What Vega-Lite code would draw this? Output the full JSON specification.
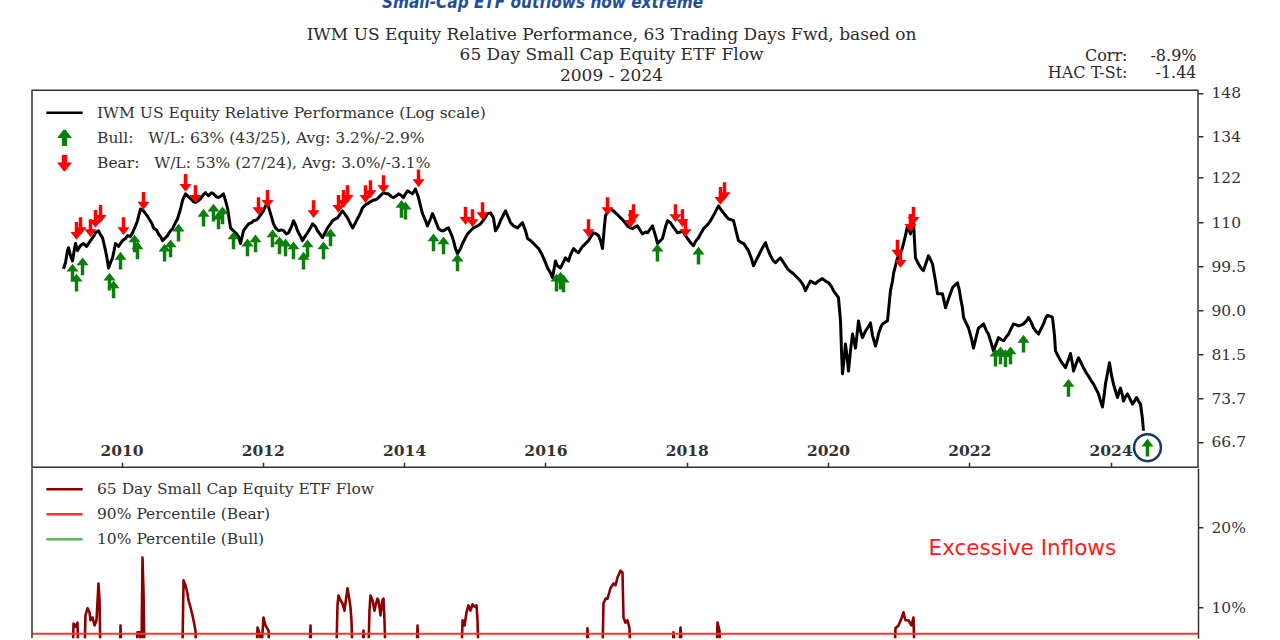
{
  "$schema": "https://vega.github.io/schema/vega-lite/v6.json",
  "background": "white",
  "padding": {"left": 31, "top": -7.75, "right": 0, "bottom": 0},
  "spacing": 1,
  "bounds": "flush",
  "config": {"font": "DejaVu Serif", "view": {"stroke": null}, "axis": {"grid": false}},
  "resolve": {"scale": {"x": "independent", "y": "independent", "color": "independent"}, "legend": {"color": "independent"}},
  "datasets": {
    "perf": [{"t":2009.179,"v":99.0},{"t":2009.207,"v":100.4},{"t":2009.236,"v":103.2},{"t":2009.250,"v":103.9},{"t":2009.278,"v":102.0},{"t":2009.306,"v":100.8},{"t":2009.335,"v":103.7},{"t":2009.349,"v":104.9},{"t":2009.377,"v":103.2},{"t":2009.391,"v":103.7},{"t":2009.420,"v":104.4},{"t":2009.462,"v":104.9},{"t":2009.505,"v":104.2},{"t":2009.561,"v":105.6},{"t":2009.604,"v":106.6},{"t":2009.632,"v":107.5},{"t":2009.674,"v":108.0},{"t":2009.703,"v":107.0},{"t":2009.731,"v":106.3},{"t":2009.774,"v":103.2},{"t":2009.802,"v":100.8},{"t":2009.816,"v":99.2},{"t":2009.844,"v":100.4},{"t":2009.873,"v":101.5},{"t":2009.915,"v":104.9},{"t":2009.958,"v":104.2},{"t":2010.014,"v":105.6},{"t":2010.057,"v":106.1},{"t":2010.085,"v":106.8},{"t":2010.127,"v":106.6},{"t":2010.156,"v":107.5},{"t":2010.198,"v":109.2},{"t":2010.226,"v":110.5},{"t":2010.269,"v":113.5},{"t":2010.311,"v":113.0},{"t":2010.354,"v":112.0},{"t":2010.382,"v":111.2},{"t":2010.425,"v":110.0},{"t":2010.453,"v":108.7},{"t":2010.495,"v":108.2},{"t":2010.524,"v":107.2},{"t":2010.552,"v":106.6},{"t":2010.580,"v":105.6},{"t":2010.623,"v":106.3},{"t":2010.651,"v":106.8},{"t":2010.694,"v":108.0},{"t":2010.722,"v":108.5},{"t":2010.764,"v":110.0},{"t":2010.793,"v":111.0},{"t":2010.835,"v":113.5},{"t":2010.863,"v":115.7},{"t":2010.906,"v":117.5},{"t":2010.948,"v":116.7},{"t":2010.977,"v":116.2},{"t":2011.019,"v":115.4},{"t":2011.047,"v":115.2},{"t":2011.090,"v":115.7},{"t":2011.118,"v":116.2},{"t":2011.161,"v":117.3},{"t":2011.189,"v":117.8},{"t":2011.231,"v":117.0},{"t":2011.274,"v":117.8},{"t":2011.302,"v":117.5},{"t":2011.345,"v":116.7},{"t":2011.373,"v":116.5},{"t":2011.415,"v":117.0},{"t":2011.444,"v":117.5},{"t":2011.472,"v":115.7},{"t":2011.500,"v":113.8},{"t":2011.543,"v":108.7},{"t":2011.571,"v":108.2},{"t":2011.614,"v":107.5},{"t":2011.656,"v":106.6},{"t":2011.684,"v":104.9},{"t":2011.727,"v":108.0},{"t":2011.769,"v":109.0},{"t":2011.798,"v":109.7},{"t":2011.840,"v":110.0},{"t":2011.868,"v":110.5},{"t":2011.911,"v":110.7},{"t":2011.939,"v":111.2},{"t":2011.982,"v":112.3},{"t":2012.010,"v":113.0},{"t":2012.038,"v":114.3},{"t":2012.067,"v":114.9},{"t":2012.109,"v":112.3},{"t":2012.151,"v":109.7},{"t":2012.180,"v":108.7},{"t":2012.222,"v":108.0},{"t":2012.265,"v":108.2},{"t":2012.293,"v":108.0},{"t":2012.335,"v":107.2},{"t":2012.364,"v":107.5},{"t":2012.406,"v":109.0},{"t":2012.434,"v":110.5},{"t":2012.463,"v":109.5},{"t":2012.491,"v":108.0},{"t":2012.534,"v":106.6},{"t":2012.562,"v":105.6},{"t":2012.604,"v":106.8},{"t":2012.633,"v":107.5},{"t":2012.675,"v":108.7},{"t":2012.703,"v":109.7},{"t":2012.746,"v":109.0},{"t":2012.774,"v":108.0},{"t":2012.817,"v":107.0},{"t":2012.845,"v":106.3},{"t":2012.887,"v":107.7},{"t":2012.916,"v":108.7},{"t":2012.958,"v":109.7},{"t":2012.986,"v":110.5},{"t":2013.029,"v":111.0},{"t":2013.057,"v":111.2},{"t":2013.100,"v":112.3},{"t":2013.128,"v":113.0},{"t":2013.170,"v":112.0},{"t":2013.199,"v":111.2},{"t":2013.241,"v":109.7},{"t":2013.270,"v":108.7},{"t":2013.312,"v":110.0},{"t":2013.340,"v":111.0},{"t":2013.383,"v":112.5},{"t":2013.411,"v":113.8},{"t":2013.454,"v":114.6},{"t":2013.482,"v":114.9},{"t":2013.524,"v":115.4},{"t":2013.553,"v":115.7},{"t":2013.595,"v":115.9},{"t":2013.623,"v":116.2},{"t":2013.666,"v":117.0},{"t":2013.708,"v":117.8},{"t":2013.751,"v":117.5},{"t":2013.779,"v":117.5},{"t":2013.822,"v":116.7},{"t":2013.850,"v":116.5},{"t":2013.892,"v":117.0},{"t":2013.921,"v":117.5},{"t":2013.963,"v":117.0},{"t":2013.991,"v":116.5},{"t":2014.020,"v":117.5},{"t":2014.048,"v":118.3},{"t":2014.091,"v":117.8},{"t":2014.119,"v":117.5},{"t":2014.161,"v":118.8},{"t":2014.204,"v":116.5},{"t":2014.232,"v":114.3},{"t":2014.260,"v":112.3},{"t":2014.303,"v":110.5},{"t":2014.331,"v":109.2},{"t":2014.374,"v":111.0},{"t":2014.402,"v":112.3},{"t":2014.444,"v":110.5},{"t":2014.487,"v":108.5},{"t":2014.529,"v":108.0},{"t":2014.558,"v":108.0},{"t":2014.600,"v":108.5},{"t":2014.628,"v":108.7},{"t":2014.671,"v":107.0},{"t":2014.699,"v":105.6},{"t":2014.727,"v":103.7},{"t":2014.756,"v":102.5},{"t":2014.798,"v":103.7},{"t":2014.827,"v":104.9},{"t":2014.869,"v":106.3},{"t":2014.897,"v":107.2},{"t":2014.940,"v":108.0},{"t":2014.982,"v":108.7},{"t":2015.039,"v":109.2},{"t":2015.081,"v":109.7},{"t":2015.138,"v":111.0},{"t":2015.180,"v":112.3},{"t":2015.223,"v":112.5},{"t":2015.265,"v":111.2},{"t":2015.293,"v":108.0},{"t":2015.336,"v":109.2},{"t":2015.364,"v":110.5},{"t":2015.407,"v":112.0},{"t":2015.435,"v":113.0},{"t":2015.478,"v":111.2},{"t":2015.506,"v":110.0},{"t":2015.548,"v":109.2},{"t":2015.605,"v":108.7},{"t":2015.647,"v":109.5},{"t":2015.676,"v":110.0},{"t":2015.718,"v":108.0},{"t":2015.747,"v":106.1},{"t":2015.789,"v":105.6},{"t":2015.831,"v":104.9},{"t":2015.874,"v":104.2},{"t":2015.902,"v":103.7},{"t":2015.945,"v":102.5},{"t":2015.973,"v":101.5},{"t":2016.001,"v":100.4},{"t":2016.030,"v":99.2},{"t":2016.072,"v":98.1},{"t":2016.100,"v":97.0},{"t":2016.143,"v":100.8},{"t":2016.171,"v":99.7},{"t":2016.214,"v":99.2},{"t":2016.256,"v":100.6},{"t":2016.284,"v":101.5},{"t":2016.327,"v":100.8},{"t":2016.355,"v":102.2},{"t":2016.398,"v":103.7},{"t":2016.440,"v":103.0},{"t":2016.468,"v":102.7},{"t":2016.511,"v":103.9},{"t":2016.539,"v":104.4},{"t":2016.582,"v":105.1},{"t":2016.610,"v":105.6},{"t":2016.652,"v":106.8},{"t":2016.681,"v":107.5},{"t":2016.723,"v":107.2},{"t":2016.751,"v":106.8},{"t":2016.780,"v":105.6},{"t":2016.808,"v":103.7},{"t":2016.836,"v":109.2},{"t":2016.851,"v":111.8},{"t":2016.893,"v":113.0},{"t":2016.921,"v":113.5},{"t":2016.964,"v":113.0},{"t":2016.992,"v":112.5},{"t":2017.035,"v":111.8},{"t":2017.063,"v":111.2},{"t":2017.105,"v":110.5},{"t":2017.162,"v":109.2},{"t":2017.204,"v":108.7},{"t":2017.233,"v":108.5},{"t":2017.275,"v":109.0},{"t":2017.303,"v":109.2},{"t":2017.346,"v":108.0},{"t":2017.374,"v":107.2},{"t":2017.417,"v":107.7},{"t":2017.445,"v":107.5},{"t":2017.487,"v":108.5},{"t":2017.516,"v":109.2},{"t":2017.558,"v":106.8},{"t":2017.586,"v":104.9},{"t":2017.629,"v":105.6},{"t":2017.657,"v":106.1},{"t":2017.700,"v":109.0},{"t":2017.728,"v":110.5},{"t":2017.771,"v":110.0},{"t":2017.799,"v":109.2},{"t":2017.841,"v":108.2},{"t":2017.870,"v":107.5},{"t":2017.912,"v":107.7},{"t":2017.940,"v":108.0},{"t":2017.983,"v":106.8},{"t":2018.011,"v":106.1},{"t":2018.054,"v":105.1},{"t":2018.096,"v":104.4},{"t":2018.124,"v":105.4},{"t":2018.167,"v":106.3},{"t":2018.195,"v":107.2},{"t":2018.238,"v":108.5},{"t":2018.280,"v":109.2},{"t":2018.337,"v":110.5},{"t":2018.393,"v":112.3},{"t":2018.450,"v":114.3},{"t":2018.478,"v":113.5},{"t":2018.521,"v":112.5},{"t":2018.563,"v":111.5},{"t":2018.591,"v":111.0},{"t":2018.634,"v":110.7},{"t":2018.662,"v":110.5},{"t":2018.705,"v":107.5},{"t":2018.733,"v":105.6},{"t":2018.775,"v":105.1},{"t":2018.804,"v":104.9},{"t":2018.846,"v":103.9},{"t":2018.874,"v":103.2},{"t":2018.917,"v":101.3},{"t":2018.945,"v":99.7},{"t":2018.988,"v":101.1},{"t":2019.016,"v":102.0},{"t":2019.073,"v":103.9},{"t":2019.115,"v":105.1},{"t":2019.143,"v":103.7},{"t":2019.186,"v":102.0},{"t":2019.228,"v":100.8},{"t":2019.257,"v":100.4},{"t":2019.299,"v":101.1},{"t":2019.327,"v":101.5},{"t":2019.384,"v":100.1},{"t":2019.427,"v":99.0},{"t":2019.469,"v":98.4},{"t":2019.511,"v":97.9},{"t":2019.568,"v":97.0},{"t":2019.611,"v":96.3},{"t":2019.653,"v":95.3},{"t":2019.681,"v":94.2},{"t":2019.724,"v":95.5},{"t":2019.752,"v":96.3},{"t":2019.795,"v":95.9},{"t":2019.823,"v":95.7},{"t":2019.865,"v":96.3},{"t":2019.922,"v":96.8},{"t":2019.964,"v":96.3},{"t":2020.007,"v":95.9},{"t":2020.049,"v":95.1},{"t":2020.077,"v":94.2},{"t":2020.120,"v":93.3},{"t":2020.148,"v":92.7},{"t":2020.177,"v":87.9},{"t":2020.191,"v":82.1},{"t":2020.205,"v":77.9},{"t":2020.233,"v":81.2},{"t":2020.247,"v":83.4},{"t":2020.276,"v":80.3},{"t":2020.290,"v":78.4},{"t":2020.318,"v":82.1},{"t":2020.347,"v":85.3},{"t":2020.375,"v":83.6},{"t":2020.389,"v":82.6},{"t":2020.417,"v":85.9},{"t":2020.431,"v":87.9},{"t":2020.460,"v":85.9},{"t":2020.488,"v":84.6},{"t":2020.531,"v":85.9},{"t":2020.559,"v":86.5},{"t":2020.601,"v":87.5},{"t":2020.630,"v":85.0},{"t":2020.672,"v":83.0},{"t":2020.700,"v":84.4},{"t":2020.714,"v":85.3},{"t":2020.743,"v":86.5},{"t":2020.771,"v":87.3},{"t":2020.814,"v":87.7},{"t":2020.842,"v":87.9},{"t":2020.870,"v":92.0},{"t":2020.884,"v":94.2},{"t":2020.913,"v":96.3},{"t":2020.927,"v":97.9},{"t":2020.955,"v":99.7},{"t":2020.983,"v":101.5},{"t":2021.026,"v":102.7},{"t":2021.054,"v":103.9},{"t":2021.096,"v":106.8},{"t":2021.125,"v":109.2},{"t":2021.153,"v":108.0},{"t":2021.167,"v":107.2},{"t":2021.196,"v":109.2},{"t":2021.210,"v":110.5},{"t":2021.224,"v":105.6},{"t":2021.238,"v":101.5},{"t":2021.266,"v":100.6},{"t":2021.281,"v":100.1},{"t":2021.323,"v":99.0},{"t":2021.351,"v":98.6},{"t":2021.394,"v":100.6},{"t":2021.422,"v":102.0},{"t":2021.451,"v":101.1},{"t":2021.479,"v":100.1},{"t":2021.521,"v":96.3},{"t":2021.550,"v":93.5},{"t":2021.592,"v":93.5},{"t":2021.620,"v":93.5},{"t":2021.649,"v":91.6},{"t":2021.663,"v":90.6},{"t":2021.705,"v":92.4},{"t":2021.762,"v":94.8},{"t":2021.804,"v":95.5},{"t":2021.833,"v":95.9},{"t":2021.861,"v":94.2},{"t":2021.875,"v":92.7},{"t":2021.903,"v":90.6},{"t":2021.918,"v":88.6},{"t":2021.960,"v":87.3},{"t":2021.988,"v":86.5},{"t":2022.031,"v":84.4},{"t":2022.059,"v":82.6},{"t":2022.102,"v":85.0},{"t":2022.130,"v":86.5},{"t":2022.172,"v":86.9},{"t":2022.201,"v":87.3},{"t":2022.243,"v":85.9},{"t":2022.271,"v":85.3},{"t":2022.314,"v":83.4},{"t":2022.342,"v":82.1},{"t":2022.385,"v":83.6},{"t":2022.413,"v":84.6},{"t":2022.456,"v":84.2},{"t":2022.484,"v":84.0},{"t":2022.526,"v":84.8},{"t":2022.555,"v":85.3},{"t":2022.597,"v":86.5},{"t":2022.625,"v":87.3},{"t":2022.668,"v":87.1},{"t":2022.696,"v":86.9},{"t":2022.739,"v":87.1},{"t":2022.767,"v":87.3},{"t":2022.809,"v":87.9},{"t":2022.838,"v":88.6},{"t":2022.880,"v":87.5},{"t":2022.908,"v":86.5},{"t":2022.951,"v":85.7},{"t":2022.979,"v":85.3},{"t":2023.022,"v":86.5},{"t":2023.050,"v":87.3},{"t":2023.078,"v":88.4},{"t":2023.107,"v":89.0},{"t":2023.149,"v":88.8},{"t":2023.177,"v":88.6},{"t":2023.206,"v":85.0},{"t":2023.220,"v":82.1},{"t":2023.262,"v":81.0},{"t":2023.291,"v":80.3},{"t":2023.333,"v":79.5},{"t":2023.361,"v":79.0},{"t":2023.404,"v":80.5},{"t":2023.432,"v":81.6},{"t":2023.460,"v":79.7},{"t":2023.475,"v":78.4},{"t":2023.517,"v":79.9},{"t":2023.545,"v":80.8},{"t":2023.588,"v":79.7},{"t":2023.616,"v":79.0},{"t":2023.659,"v":78.0},{"t":2023.687,"v":77.5},{"t":2023.729,"v":76.6},{"t":2023.758,"v":76.1},{"t":2023.800,"v":75.1},{"t":2023.829,"v":74.4},{"t":2023.857,"v":73.2},{"t":2023.885,"v":72.2},{"t":2023.913,"v":74.6},{"t":2023.927,"v":76.1},{"t":2023.956,"v":78.0},{"t":2023.984,"v":79.9},{"t":2024.012,"v":77.7},{"t":2024.040,"v":76.1},{"t":2024.069,"v":74.9},{"t":2024.097,"v":73.8},{"t":2024.125,"v":74.9},{"t":2024.140,"v":75.4},{"t":2024.168,"v":74.1},{"t":2024.182,"v":73.2},{"t":2024.210,"v":73.9},{"t":2024.239,"v":74.4},{"t":2024.281,"v":73.4},{"t":2024.310,"v":72.7},{"t":2024.338,"v":73.2},{"t":2024.366,"v":73.8},{"t":2024.395,"v":73.2},{"t":2024.423,"v":72.7},{"t":2024.451,"v":70.3},{"t":2024.465,"v":68.4}],
    "bull": [{"t":2009.306,"v":98.1},{"t":2009.363,"v":95.9},{"t":2009.448,"v":99.5},{"t":2009.830,"v":96.1},{"t":2009.887,"v":94.4},{"t":2009.986,"v":100.8},{"t":2010.184,"v":104.9},{"t":2010.226,"v":103.2},{"t":2010.609,"v":102.7},{"t":2010.694,"v":103.7},{"t":2010.807,"v":107.5},{"t":2011.161,"v":111.2},{"t":2011.302,"v":112.5},{"t":2011.373,"v":110.5},{"t":2011.430,"v":111.8},{"t":2011.585,"v":105.6},{"t":2011.783,"v":103.9},{"t":2011.897,"v":104.9},{"t":2012.137,"v":106.1},{"t":2012.236,"v":104.4},{"t":2012.321,"v":103.9},{"t":2012.434,"v":103.2},{"t":2012.576,"v":100.8},{"t":2012.633,"v":103.7},{"t":2012.859,"v":103.2},{"t":2012.958,"v":106.3},{"t":2013.963,"v":113.5},{"t":2014.020,"v":113.0},{"t":2014.416,"v":105.1},{"t":2014.558,"v":104.4},{"t":2014.756,"v":100.4},{"t":2016.157,"v":95.9},{"t":2016.214,"v":96.3},{"t":2016.256,"v":95.7},{"t":2017.586,"v":102.7},{"t":2018.167,"v":102.0},{"t":2022.371,"v":80.8},{"t":2022.441,"v":81.2},{"t":2022.512,"v":80.7},{"t":2022.583,"v":81.2},{"t":2022.767,"v":83.4},{"t":2023.404,"v":75.4},{"t":2024.522,"v":65.8}],
    "bear": [{"t":2009.363,"v":108.0},{"t":2009.420,"v":109.2},{"t":2009.561,"v":108.7},{"t":2009.632,"v":111.0},{"t":2009.703,"v":112.3},{"t":2010.028,"v":109.2},{"t":2010.311,"v":115.7},{"t":2010.906,"v":120.5},{"t":2011.047,"v":117.5},{"t":2011.939,"v":114.3},{"t":2012.067,"v":116.2},{"t":2012.718,"v":113.5},{"t":2013.071,"v":114.9},{"t":2013.142,"v":116.2},{"t":2013.199,"v":117.5},{"t":2013.454,"v":117.5},{"t":2013.524,"v":118.8},{"t":2013.708,"v":120.2},{"t":2014.204,"v":121.8},{"t":2014.869,"v":111.8},{"t":2014.968,"v":111.2},{"t":2015.110,"v":113.0},{"t":2016.610,"v":108.7},{"t":2016.879,"v":114.3},{"t":2017.204,"v":111.0},{"t":2017.247,"v":112.5},{"t":2017.841,"v":112.5},{"t":2017.940,"v":111.2},{"t":2017.983,"v":108.7},{"t":2018.478,"v":117.0},{"t":2018.535,"v":118.3},{"t":2020.983,"v":103.7},{"t":2021.026,"v":101.3},{"t":2021.167,"v":110.0},{"t":2021.210,"v":111.8}],
    "flow": [{"t":2009.179,"f":0.02},{"t":2009.250,"f":0.01},{"t":2009.306,"f":0.03},{"t":2009.321,"f":0.080},{"t":2009.349,"f":0.076},{"t":2009.377,"f":0.081},{"t":2009.391,"f":0.03},{"t":2009.434,"f":0.02},{"t":2009.476,"f":0.04},{"t":2009.490,"f":0.090},{"t":2009.519,"f":0.099},{"t":2009.547,"f":0.094},{"t":2009.561,"f":0.084},{"t":2009.590,"f":0.0875},{"t":2009.618,"f":0.0775},{"t":2009.646,"f":0.084},{"t":2009.674,"f":0.130},{"t":2009.689,"f":0.109},{"t":2009.703,"f":0.03},{"t":2009.774,"f":-0.02},{"t":2009.844,"f":-0.04},{"t":2009.915,"f":0.0},{"t":2009.972,"f":0.03},{"t":2009.986,"f":0.0775},{"t":2010.000,"f":0.03},{"t":2010.099,"f":-0.03},{"t":2010.170,"f":-0.05},{"t":2010.212,"f":0.04},{"t":2010.226,"f":0.069},{"t":2010.255,"f":0.069},{"t":2010.283,"f":0.05},{"t":2010.297,"f":0.1625},{"t":2010.311,"f":0.121},{"t":2010.326,"f":0.04},{"t":2010.410,"f":0.01},{"t":2010.552,"f":-0.03},{"t":2010.694,"f":-0.05},{"t":2010.807,"f":-0.02},{"t":2010.863,"f":0.05},{"t":2010.878,"f":0.134},{"t":2010.906,"f":0.1275},{"t":2010.934,"f":0.1175},{"t":2010.948,"f":0.109},{"t":2010.977,"f":0.100},{"t":2011.005,"f":0.090},{"t":2011.019,"f":0.084},{"t":2011.047,"f":0.071},{"t":2011.062,"f":0.03},{"t":2011.146,"f":-0.04},{"t":2011.288,"f":-0.06},{"t":2011.430,"f":-0.05},{"t":2011.571,"f":-0.03},{"t":2011.755,"f":-0.04},{"t":2011.854,"f":0.0},{"t":2011.911,"f":0.04},{"t":2011.925,"f":0.075},{"t":2011.953,"f":0.0675},{"t":2011.982,"f":0.05},{"t":2012.010,"f":0.0875},{"t":2012.038,"f":0.0775},{"t":2012.081,"f":0.071},{"t":2012.095,"f":0.03},{"t":2012.180,"f":-0.04},{"t":2012.321,"f":-0.06},{"t":2012.463,"f":-0.05},{"t":2012.576,"f":-0.06},{"t":2012.647,"f":0.0},{"t":2012.661,"f":0.04},{"t":2012.675,"f":0.0775},{"t":2012.689,"f":0.03},{"t":2012.817,"f":-0.04},{"t":2012.958,"f":-0.05},{"t":2013.043,"f":0.05},{"t":2013.057,"f":0.1025},{"t":2013.071,"f":0.115},{"t":2013.100,"f":0.109},{"t":2013.128,"f":0.105},{"t":2013.156,"f":0.096},{"t":2013.185,"f":0.115},{"t":2013.199,"f":0.124},{"t":2013.227,"f":0.109},{"t":2013.241,"f":0.100},{"t":2013.255,"f":0.084},{"t":2013.270,"f":0.04},{"t":2013.354,"f":0.02},{"t":2013.411,"f":0.04},{"t":2013.425,"f":0.071},{"t":2013.439,"f":0.04},{"t":2013.496,"f":0.05},{"t":2013.510,"f":0.096},{"t":2013.524,"f":0.115},{"t":2013.553,"f":0.109},{"t":2013.581,"f":0.096},{"t":2013.595,"f":0.1025},{"t":2013.623,"f":0.111},{"t":2013.638,"f":0.109},{"t":2013.666,"f":0.090},{"t":2013.694,"f":0.109},{"t":2013.708,"f":0.111},{"t":2013.722,"f":0.084},{"t":2013.737,"f":0.04},{"t":2013.836,"f":0.0},{"t":2013.949,"f":-0.04},{"t":2014.062,"f":0.0},{"t":2014.175,"f":0.04},{"t":2014.190,"f":0.0775},{"t":2014.204,"f":0.04},{"t":2014.303,"f":0.01},{"t":2014.416,"f":-0.04},{"t":2014.558,"f":-0.05},{"t":2014.685,"f":-0.05},{"t":2014.756,"f":-0.03},{"t":2014.812,"f":0.04},{"t":2014.827,"f":0.084},{"t":2014.855,"f":0.0775},{"t":2014.883,"f":0.094},{"t":2014.911,"f":0.1025},{"t":2014.940,"f":0.096},{"t":2014.968,"f":0.104},{"t":2014.996,"f":0.101},{"t":2015.025,"f":0.1025},{"t":2015.039,"f":0.084},{"t":2015.053,"f":0.04},{"t":2015.223,"f":0.01},{"t":2015.506,"f":0.03},{"t":2015.789,"f":0.0},{"t":2016.001,"f":-0.03},{"t":2016.157,"f":-0.06},{"t":2016.242,"f":-0.05},{"t":2016.426,"f":0.0},{"t":2016.582,"f":0.04},{"t":2016.596,"f":0.074},{"t":2016.610,"f":0.04},{"t":2016.723,"f":0.03},{"t":2016.808,"f":0.04},{"t":2016.822,"f":0.105},{"t":2016.851,"f":0.111},{"t":2016.879,"f":0.111},{"t":2016.921,"f":0.124},{"t":2016.964,"f":0.130},{"t":2016.992,"f":0.1275},{"t":2017.020,"f":0.1375},{"t":2017.063,"f":0.146},{"t":2017.091,"f":0.144},{"t":2017.105,"f":0.0875},{"t":2017.134,"f":0.081},{"t":2017.162,"f":0.084},{"t":2017.190,"f":0.074},{"t":2017.204,"f":0.04},{"t":2017.346,"f":0.02},{"t":2017.487,"f":0.0},{"t":2017.586,"f":-0.04},{"t":2017.700,"f":0.0},{"t":2017.799,"f":0.04},{"t":2017.813,"f":0.069},{"t":2017.841,"f":0.04},{"t":2017.898,"f":0.05},{"t":2017.912,"f":0.075},{"t":2017.940,"f":0.04},{"t":2018.054,"f":0.0},{"t":2018.167,"f":-0.04},{"t":2018.280,"f":0.0},{"t":2018.422,"f":0.04},{"t":2018.436,"f":0.081},{"t":2018.464,"f":0.071},{"t":2018.478,"f":0.04},{"t":2018.620,"f":0.02},{"t":2018.832,"f":0.0},{"t":2019.044,"f":0.01},{"t":2019.327,"f":0.02},{"t":2019.611,"f":0.0},{"t":2019.894,"f":0.01},{"t":2020.148,"f":0.03},{"t":2020.247,"f":-0.03},{"t":2020.460,"f":0.0},{"t":2020.672,"f":0.02},{"t":2020.856,"f":0.03},{"t":2020.941,"f":0.04},{"t":2020.955,"f":0.074},{"t":2020.997,"f":0.0775},{"t":2021.040,"f":0.086},{"t":2021.068,"f":0.094},{"t":2021.096,"f":0.084},{"t":2021.139,"f":0.084},{"t":2021.181,"f":0.0775},{"t":2021.210,"f":0.0875},{"t":2021.224,"f":0.04},{"t":2021.380,"f":0.02},{"t":2021.592,"f":0.0},{"t":2021.875,"f":-0.02},{"t":2022.158,"f":-0.04},{"t":2022.371,"f":-0.06},{"t":2022.512,"f":-0.07},{"t":2022.653,"f":-0.05},{"t":2022.767,"f":-0.05},{"t":2022.937,"f":-0.02},{"t":2023.149,"f":-0.01},{"t":2023.404,"f":-0.05},{"t":2023.574,"f":-0.03},{"t":2023.857,"f":-0.02},{"t":2024.140,"f":-0.03},{"t":2024.352,"f":-0.04},{"t":2024.465,"f":-0.06}]
  },
  "vconcat": [
    {
      "width": 1166,
      "height": 377,
      "view": {"stroke": "#333333", "strokeWidth": 1.5},
      "layer": [
        {
          "data": {"name": "perf"},
          "mark": {"type": "line", "strokeWidth": 3, "strokeJoin": "round"},
          "encoding": {
            "x": {"field": "t", "type": "quantitative",
                  "scale": {"domain": [2008.733, 2025.237], "nice": false, "zero": false},
                  "axis": {"orient": "bottom", "values": [2010, 2012, 2014, 2016, 2018, 2020, 2022, 2024], "format": "d", "title": null, "domain": false, "grid": false,
                           "tickSize": -5, "tickColor": "#333333", "tickWidth": 1.5, "labelPadding": -12, "labelBaseline": "middle",
                           "labelFont": "DejaVu Serif", "labelFontSize": 15.5, "labelFontWeight": "bold", "labelColor": "#333333", "labelFlush": false, "labelOverlap": false}},
            "y": {"field": "v", "type": "quantitative",
                  "scale": {"type": "log", "domain": [62.93, 148.85], "nice": false},
                  "axis": {"orient": "right", "values": [66.7, 73.7, 81.5, 90, 99.5, 110, 122, 134, 148],
                           "labelExpr": "datum.value >= 100 ? format(datum.value, '.0f') : format(datum.value, '.1f')",
                           "title": null, "domain": false, "grid": false, "tickSize": 5, "tickColor": "#333333", "tickWidth": 1.5, "labelPadding": 8,
                           "labelFont": "DejaVu Serif", "labelFontSize": 15.5, "labelColor": "#333333", "labelFlush": false, "labelOverlap": false}},
            "color": {"datum": "IWM US Equity Relative Performance (Log scale)", "type": "nominal",
                      "scale": {"domain": ["IWM US Equity Relative Performance (Log scale)", "Bull:\u00a0\u00a0 W/L: 63% (43/25), Avg: 3.2%/-2.9%", "Bear:\u00a0\u00a0 W/L: 53% (27/24), Avg: 3.0%/-3.1%"],
                                "range": ["#000000", "#0a7f0a", "#ff0000"]},
                      "legend": {"orient": "none", "legendX": 11, "legendY": 14.5, "title": null, "symbolSize": 196, "symbolOffset": 13, "labelOffset": 24, "rowPadding": 8, "clipHeight": 16,
                                 "labelFont": "DejaVu Serif", "labelFontSize": 15.5, "labelColor": "#333333", "labelLimit": 700, "symbolStrokeWidth": 2.5,
                                 "encode": {"symbols": {"update": {
                                   "shape": {"signal": "indexof(datum.value,'IWM')==0 ? 'M-2.6,0L2.6,0' : (indexof(datum.value,'Bull')==0 ? 'M-0.2,1L0.2,1L0.2,-0.15L0.7,-0.15L0,-1.05L-0.7,-0.15L-0.2,-0.15Z' : 'M-0.2,-1L0.2,-1L0.2,0.15L0.7,0.15L0,1.05L-0.7,0.15L-0.2,0.15Z')"},
                                   "fill": {"signal": "indexof(datum.value,'IWM')==0 ? 'transparent' : (indexof(datum.value,'Bull')==0 ? '#0a7f0a' : '#ff0000')"},
                                   "stroke": {"signal": "indexof(datum.value,'IWM')==0 ? '#000000' : 'transparent'"},
                                   "strokeWidth": {"value": 2.5},
                                   "opacity": {"value": 1}
                                 }}}}}
          }
        },
        {
          "data": {"name": "bull"},
          "mark": {"type": "point", "filled": true, "opacity": 1, "size": 300, "shape": "M-0.2,1L0.2,1L0.2,-0.15L0.7,-0.15L0,-1.05L-0.7,-0.15L-0.2,-0.15Z"},
          "encoding": {
            "x": {"field": "t", "type": "quantitative"},
            "y": {"field": "v", "type": "quantitative"},
            "color": {"datum": "Bull:\u00a0\u00a0 W/L: 63% (43/25), Avg: 3.2%/-2.9%", "type": "nominal"}
          }
        },
        {
          "data": {"name": "bear"},
          "mark": {"type": "point", "filled": true, "opacity": 1, "size": 300, "shape": "M-0.2,-1L0.2,-1L0.2,0.15L0.7,0.15L0,1.05L-0.7,0.15L-0.2,0.15Z"},
          "encoding": {
            "x": {"field": "t", "type": "quantitative"},
            "y": {"field": "v", "type": "quantitative"},
            "color": {"datum": "Bear:\u00a0\u00a0 W/L: 53% (27/24), Avg: 3.0%/-3.1%", "type": "nominal"}
          }
        },
        {
          "data": {"values": [{"t": 2024.522, "v": 65.8}]},
          "mark": {"type": "point", "shape": "circle", "filled": false, "size": 720, "stroke": "#1d3a5a", "strokeWidth": 2.5, "opacity": 1},
          "encoding": {
            "x": {"field": "t", "type": "quantitative"},
            "y": {"field": "v", "type": "quantitative"}
          }
        },
        {
          "data": {"values": [
            {"text": "IWM US Equity Relative Performance, 63 Trading Days Fwd, based on", "t": 2016.936, "v": 167.0},
            {"text": "65 Day Small Cap Equity ETF Flow", "t": 2016.936, "v": 159.5},
            {"text": "2009 - 2024", "t": 2016.936, "v": 152.1}
          ]},
          "mark": {"type": "text", "align": "center", "baseline": "alphabetic", "font": "DejaVu Serif", "fontSize": 17, "color": "#2b2b2b"},
          "encoding": {
            "x": {"field": "t", "type": "quantitative"},
            "y": {"field": "v", "type": "quantitative"},
            "text": {"field": "text", "type": "nominal"}
          }
        },
        {
          "data": {"values": [
            {"text": "Corr:", "t": 2024.239, "v": 159.2},
            {"text": "HAC T-St:", "t": 2024.239, "v": 153.2}
          ]},
          "mark": {"type": "text", "align": "right", "baseline": "alphabetic", "font": "DejaVu Serif", "fontSize": 16, "color": "#2b2b2b"},
          "encoding": {
            "x": {"field": "t", "type": "quantitative"},
            "y": {"field": "v", "type": "quantitative"},
            "text": {"field": "text", "type": "nominal"}
          }
        },
        {
          "data": {"values": [
            {"text": "-8.9%", "t": 2025.216, "v": 159.2},
            {"text": "-1.44", "t": 2025.216, "v": 153.2}
          ]},
          "mark": {"type": "text", "align": "right", "baseline": "alphabetic", "font": "DejaVu Serif", "fontSize": 16, "color": "#2b2b2b"},
          "encoding": {
            "x": {"field": "t", "type": "quantitative"},
            "y": {"field": "v", "type": "quantitative"},
            "text": {"field": "text", "type": "nominal"}
          }
        },
        {
          "data": {"values": [{"text": "Small-Cap ETF outflows now extreme", "t": 2015.959, "v": 179.7}]},
          "mark": {"type": "text", "align": "center", "baseline": "alphabetic", "font": "DejaVu Sans Condensed", "fontSize": 17, "fontWeight": "bold", "fontStyle": "italic", "color": "#1f4e9a"},
          "encoding": {
            "x": {"field": "t", "type": "quantitative"},
            "y": {"field": "v", "type": "quantitative"},
            "text": {"field": "text", "type": "nominal"}
          }
        }
      ]
    },
    {
      "width": 1166,
      "height": 170,
      "layer": [
        {
          "data": {"name": "flow"},
          "mark": {"type": "line", "strokeWidth": 2.6, "clip": true, "strokeJoin": "round"},
          "encoding": {
            "x": {"field": "t", "type": "quantitative", "scale": {"domain": [2008.733, 2025.237], "nice": false, "zero": false}, "axis": null},
            "y": {"field": "f", "type": "quantitative", "scale": {"domain": [0.0615, 0.274], "nice": false, "zero": false},
                  "axis": {"orient": "right", "values": [0.1, 0.2], "format": ".0%", "title": null, "grid": false,
                           "domain": true, "domainColor": "#333333", "domainWidth": 1.5,
                           "tickSize": 5, "tickColor": "#333333", "tickWidth": 1.5, "labelPadding": 8,
                           "labelFont": "DejaVu Serif", "labelFontSize": 15.5, "labelColor": "#333333", "labelFlush": false, "labelOverlap": false}},
            "color": {"datum": "65 Day Small Cap Equity ETF Flow", "type": "nominal", "title": null,
                      "scale": {"domain": ["65 Day Small Cap Equity ETF Flow", "90% Percentile (Bear)", "10% Percentile (Bull)"], "range": ["#8b0000", "#ff3333", "#5cb85c"]},
                      "legend": {"orient": "none", "legendX": 11, "legendY": 13, "title": null, "symbolType": "M-2.6,0L2.6,0", "symbolSize": 196, "symbolOffset": 13, "symbolStrokeWidth": 2.5,
                                 "labelOffset": 24, "rowPadding": 8, "clipHeight": 16, "labelFont": "DejaVu Serif", "labelFontSize": 15.5, "labelColor": "#333333", "labelLimit": 700}}
          }
        },
        {
          "data": {"values": [{"name": "90% Percentile (Bear)", "f": 0.067}, {"name": "10% Percentile (Bull)", "f": -0.045}]},
          "mark": {"type": "rule", "strokeWidth": 2, "clip": true},
          "encoding": {
            "y": {"field": "f", "type": "quantitative"},
            "color": {"field": "name", "type": "nominal", "title": null}
          }
        },
        {
          "data": {"values": [{"t": 2008.733}]},
          "mark": {"type": "rule", "color": "#333333", "strokeWidth": 1.5},
          "encoding": {"x": {"field": "t", "type": "quantitative"}}
        },
        {
          "data": {"values": [{"text": "Excessive Inflows", "t": 2021.423, "f": 0.1725}]},
          "mark": {"type": "text", "align": "left", "baseline": "middle", "font": "DejaVu Sans", "fontSize": 21.5, "color": "#ff1a1a"},
          "encoding": {
            "x": {"field": "t", "type": "quantitative"},
            "y": {"field": "f", "type": "quantitative"},
            "text": {"field": "text", "type": "nominal"}
          }
        }
      ]
    }
  ]
}
